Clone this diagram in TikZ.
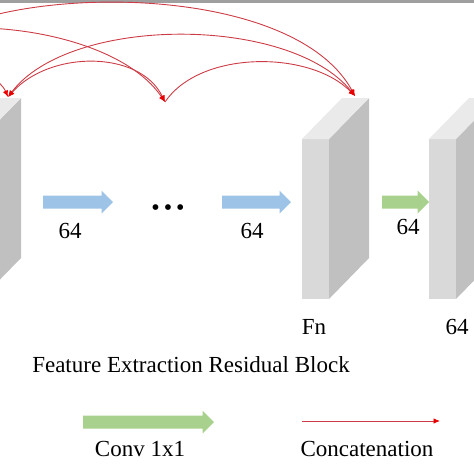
\documentclass[tikz,border=0pt]{standalone}
\usepackage{fontspec}
\setmainfont{Liberation Serif}
\usetikzlibrary{arrows.meta}

\definecolor{blockfront}{RGB}{217,217,217}
\definecolor{blockside}{RGB}{192,192,192}
\definecolor{blocktop}{RGB}{234,234,234}
\definecolor{convblue}{RGB}{157,195,230}
\definecolor{convgreen}{RGB}{169,209,142}
\definecolor{catline}{RGB}{205,60,70}
\definecolor{cathead}{RGB}{232,0,0}

\newcommand{\fatarrow}[4]{%
  \fill[#4] (#1,#3-6.5) -- (#2-11.5,#3-6.5) -- (#2-11.5,#3-11.5) -- (#2,#3)
    -- (#2-11.5,#3+11.5) -- (#2-11.5,#3+6.5) -- (#1,#3+6.5) -- cycle;}

\begin{document}
\begin{tikzpicture}[x=1pt, y=-1pt,
    label/.style={font=\fontsize{23}{27}\selectfont, inner sep=0pt},
    cat/.style={catline, line width=0.9pt, -{Latex[length=6.5pt,width=5.5pt,color=cathead]}},
    catboth/.style={catline, line width=0.9pt, {Latex[length=6.5pt,width=5.5pt,color=cathead]}-{Latex[length=6.5pt,width=5.5pt,color=cathead]}}]
    \useasboundingbox (0,0) rectangle (474,474);
    \clip (0,0) rectangle (474,474);

    \fill[gray!75] (0,0) rectangle (474,2.5);

    \foreach \bx in {-46, 302, 429} {
        \fill[blockfront] (\bx,139) rectangle (\bx+27,299);
        \fill[blockside] (\bx+27,139) -- (\bx+67,98) -- (\bx+67,258) -- (\bx+27,299) -- cycle;
        \fill[blocktop] (\bx,139) -- (\bx+40,98) -- (\bx+67,98) -- (\bx+27,139) -- cycle;
    }

    \fatarrow{43}{113}{202}{convblue}
    \fatarrow{222}{291}{202}{convblue}
    \fatarrow{382}{429}{202}{convgreen}
    \fatarrow{83}{214}{422}{convgreen}

    \node[label] (n64a) at (70,231) {64};
    \node[label, font=\fontsize{24}{28}\selectfont] (dots) at (168,210) {•\,•\,•};
    \node[label] (n64b) at (252,231) {64};
    \node[label] (n64c) at (408,227) {64};
    \node[label] (fn) at (314,327) {Fn};
    \node[label] (n64d) at (457,327) {64};
    \node[label] (title) at (191,365) {Feature Extraction Residual Block};
    \node[label] (conv) at (140,449) {Conv 1x1};
    \node[label] (concat) at (367,449) {Concatenation};

    \coordinate (tl) at (8,97);
    \coordinate (tm) at (165,102);
    \coordinate (tf) at (355,96);
    \coordinate (sa) at (-30,22);
    \coordinate (sb) at (-40,28);
    \coordinate (sc) at (-5,80);
    \coordinate (ls) at (302,421);
    \coordinate (le) at (440,421);

    \draw[cat] (sa) .. controls (80,-15) and (300,-5) .. (tf);
    \draw[cat] (sb) .. controls (40,25) and (130,50) .. (tm);
    \draw[cat] (sc) .. controls (2,84) and (5,90) .. (tl);
    \draw[catboth] (tl) .. controls (70,15) and (290,15) .. (tf);
    \draw[catboth] (tl) .. controls (50,50) and (140,50) .. (tm);
    \draw[cat] (tm) .. controls (200,50) and (310,50) .. (tf);
    \draw[cat] (ls) -- (le);
\end{tikzpicture}
\end{document}
